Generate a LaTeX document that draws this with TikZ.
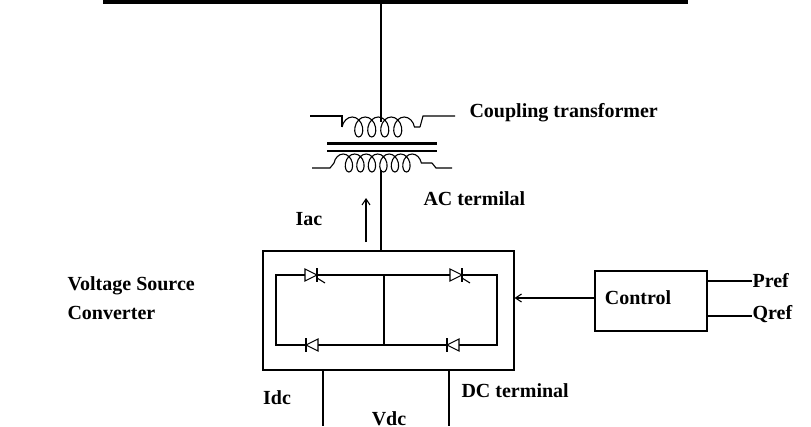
\documentclass[tikz,border=0pt]{standalone}
\usepackage{fontspec}
\setmainfont{Liberation Serif}
\usetikzlibrary{decorations.pathmorphing,arrows.meta}
\begin{document}
\begin{tikzpicture}[x=1pt,y=-1pt,line width=1.1pt,
 lbl/.style={font=\bfseries\fontsize{20}{29}\selectfont,inner sep=0pt},
 coilA/.style={decorate,decoration={coil,aspect=0.7,segment length=13pt,amplitude=10pt}},
 coilB/.style={decorate,decoration={coil,aspect=0.7,segment length=11.5pt,amplitude=9pt}}]
\useasboundingbox (0,0) rectangle (811,426);
% bus
\draw[line width=5pt] (103,1) -- (688,1);
\coordinate (busT) at (381,2);
\coordinate (trT) at (381,122);
\draw (busT) -- (trT);
% transformer top winding
\draw (310,116) -- (342,116) -- (342,127);
\draw[coilA] (342,127) -- (420,127);
\draw (420,127) -- (423,116) -- (455,116);
% core
\draw[line width=3pt] (327,143) -- (437,143);
\draw[line width=2pt] (327,151) -- (437,151);
% bottom winding
\draw (312,168) -- (330,168) -- (334,163);
\draw[coilB] (334,163) -- (432,163);
\draw (432,163) -- (436,168) -- (452,168);
% converter
\node[draw,minimum width=251pt,minimum height=119pt,inner sep=0pt] (vsc) at (388.5,310.5) {};
\coordinate (trB) at (381,170);
\draw (trB) -- (vsc.north -| trB);
\draw[-{Straight Barb[length=6pt,width=8pt]}] (366,242) -- (366,198);
% bridge
\draw (276,275) rectangle (497,345);
\draw (384,275) -- (384,345);
\tikzset{thy/.pic={\draw[fill=white] (-6,-6) -- (6,0) -- (-6,6) -- cycle; \draw (6,-7) -- (6,7); \draw (6,3) -- (14,8);},
 dL/.pic={\draw[fill=white] (6,-6) -- (-6,0) -- (6,6) -- cycle; \draw (-6,-7) -- (-6,7);}}
\pic at (311,275) {thy};
\pic at (456,275) {thy};
\pic at (312,345) {dL};
\pic at (453,345) {dL};
% dc lines
\coordinate (dc1) at (323,426);
\coordinate (dc2) at (449,426);
\draw (vsc.south -| dc1) -- (dc1);
\draw (vsc.south -| dc2) -- (dc2);
% control
\node[draw,minimum width=112pt,minimum height=60pt,inner sep=0pt] (ctl) at (651,301) {};
\node[lbl] at (638,298) {Control};
\draw[-{Straight Barb[length=6pt,width=8pt]}] (ctl.west |- 0,298) -- (vsc.east |- 0,298);
\coordinate (pr) at (752,281);
\coordinate (qr) at (752,316);
\draw (ctl.east |- pr) -- (pr);
\draw (ctl.east |- qr) -- (qr);
% labels
\node[lbl,anchor=west] at (752,281) {Pref};
\node[lbl,anchor=west] at (752,314) {Qref};
\node[lbl,anchor=west] at (469,113) {Coupling transformer};
\node[lbl,anchor=west] at (423,199) {AC termilal};
\node[lbl] at (309,219) {Iac};
\node[lbl,anchor=west,align=left] at (67,298) {Voltage Source\\Converter};
\node[lbl] at (277,398) {Idc};
\node[lbl,anchor=west] at (461,391) {DC terminal};
\node[lbl] at (389,419) {Vdc};
\end{tikzpicture}
\end{document}
